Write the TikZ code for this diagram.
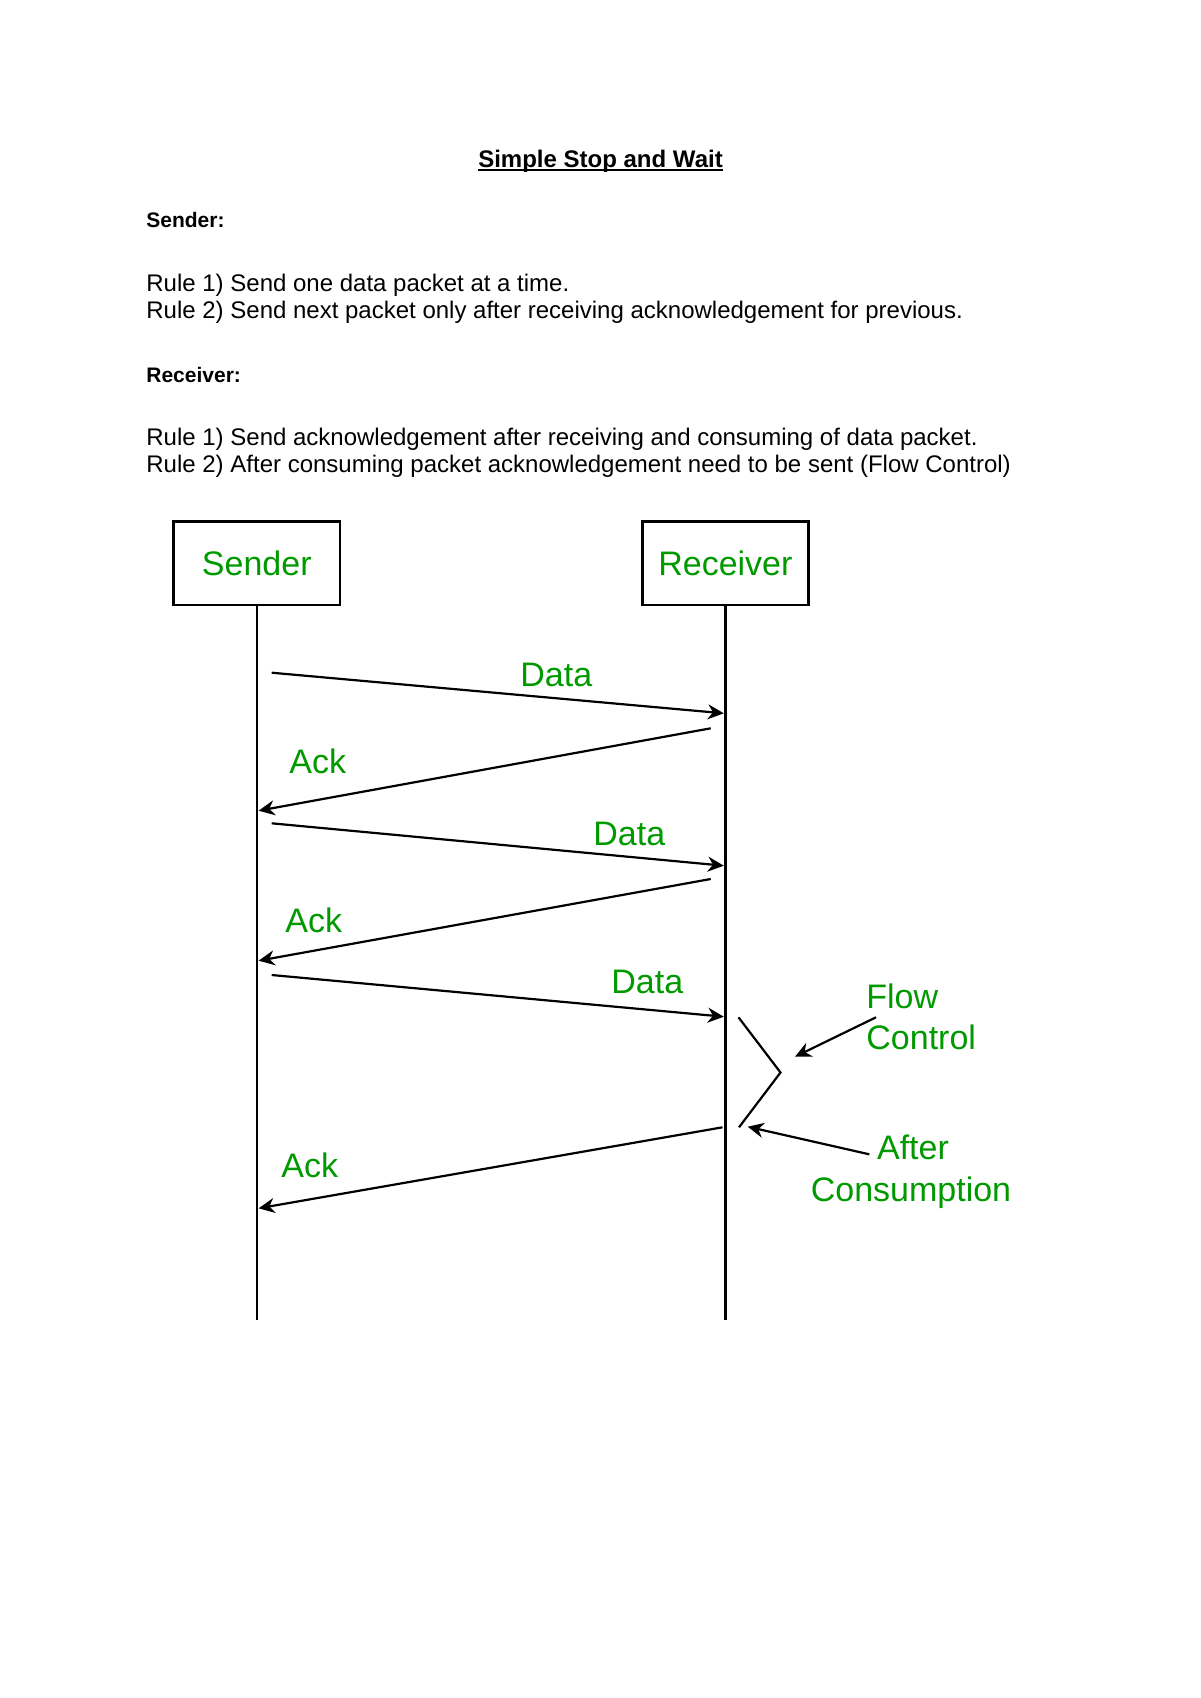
\documentclass[tikz,border=0pt]{standalone}
\usepackage{fontspec}
\setmainfont{Liberation Sans}
\usetikzlibrary{arrows.meta}
\definecolor{lblgreen}{RGB}{0,153,0}
\begin{document}
\begin{tikzpicture}[x=0.5pt,y=-0.5pt,
  body/.style={anchor=base west, inner sep=0pt, font=\fontsize{12}{14}\selectfont},
  head/.style={anchor=base west, inner sep=0pt, font=\fontsize{10.5}{13}\selectfont\bfseries},
  lbl/.style={anchor=base west, inner sep=0pt, text=lblgreen, font=\fontsize{17}{20}\selectfont},
  lblc/.style={lbl, anchor=base},
  actor/.style={draw, line width=1.35pt, minimum width=83.2pt, minimum height=41.6pt,
    inner sep=0pt, text=lblgreen, font=\fontsize{17}{20}\selectfont},
  lifeline/.style={line width=1.25pt},
  msg/.style={line width=1.1pt, -{Stealth[length=8pt,width=7.5pt,inset=2.6pt]}},
  plain/.style={line width=1.1pt}
]
\useasboundingbox (0,0) rectangle (1200,1698);

% heading texts
\node[inner sep=0pt, anchor=base, font=\fontsize{12}{14}\selectfont\bfseries] (title) at (600.5,167) {Simple Stop and Wait};
\draw[line width=0.9pt] ([yshift=-1.4pt]title.base west) -- ([yshift=-1.4pt]title.base east);

\node[head] (shead) at (146,227) {Sender:};
\node[body] (sr1) at (146,291.5) {Rule 1) Send one data packet at a time.};
\node[body] (sr2) at (146,318) {Rule 2) Send next packet only after receiving acknowledgement for previous.};

\node[head] (rhead) at (146,382) {Receiver:};
\node[body] (rr1) at (146,445) {Rule 1) Send acknowledgement after receiving and consuming of data packet.};
\node[body] (rr2) at (146,472) {Rule 2) After consuming packet acknowledgement need to be sent (Flow Control)};

% actors
\node[actor] (sender) at (256.8,563.3) {Sender};
\node[actor] (receiver) at (725.4,563.3) {Receiver};

\coordinate (sendEnd) at (256.8,1319.5);
\coordinate (recvEnd) at (725.4,1319.5);
\draw[lifeline] (sender.south) -- (sendEnd);
\draw[lifeline] (receiver.south) -- (recvEnd);

% message end points
\coordinate (d1s) at (271.7,672.7);  \coordinate (d1e) at (723.8,713.3);
\coordinate (a1s) at (710.7,728.3);  \coordinate (a1e) at (258.6,810.7);
\coordinate (d2s) at (271.7,823.3);  \coordinate (d2e) at (723.8,865.7);
\coordinate (a2s) at (710.7,879.0);  \coordinate (a2e) at (258.6,960.7);
\coordinate (d3s) at (271.7,975.0);  \coordinate (d3e) at (723.8,1016.7);
\coordinate (a3s) at (722.5,1127.3); \coordinate (a3e) at (258.6,1208.3);

\draw[msg] (d1s) -- (d1e);
\draw[msg] (a1s) -- (a1e);
\draw[msg] (d2s) -- (d2e);
\draw[msg] (a2s) -- (a2e);
\draw[msg] (d3s) -- (d3e);
\draw[msg] (a3s) -- (a3e);

% message labels
\node[lbl] (ld1) at (520,686) {Data};
\node[lbl] (la1) at (289,773) {Ack};
\node[lbl] (ld2) at (593,845) {Data};
\node[lbl] (la2) at (285,932) {Ack};
\node[lbl] (ld3) at (611,993) {Data};
\node[lbl] (la3) at (281,1177) {Ack};

% consumption bracket
\coordinate (zt) at (738.5,1017.3);
\coordinate (zm) at (780.5,1072.5);
\coordinate (zb) at (739,1127.3);
\draw[plain] (zt) -- (zm) -- (zb);

% side notes
\node[lbl] (flow) at (866,1008.3) {Flow};
\node[lbl] (control) at (866,1049.3) {Control};
\node[lblc] (after) at (913,1159.3) {After};
\node[lblc] (consumption) at (911,1201.7) {Consumption};

\coordinate (fcs) at (876,1017.3); \coordinate (fce) at (795,1056.7);
\coordinate (acs) at (869.3,1154.3); \coordinate (ace) at (747.7,1126.7);
\draw[msg] (fcs) -- (fce);
\draw[msg] (acs) -- (ace);
\end{tikzpicture}
\end{document}
